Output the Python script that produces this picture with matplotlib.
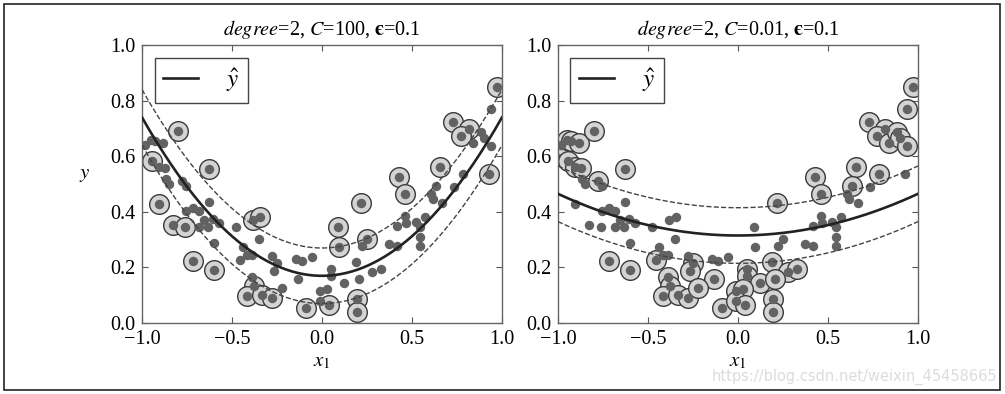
import numpy as np
import matplotlib
matplotlib.use("Agg")
import matplotlib.pyplot as plt
from matplotlib.patches import Rectangle

plt.rcParams['font.family'] = ['Liberation Serif', 'DejaVu Serif']
plt.rcParams['mathtext.fontset'] = 'stix'

# training points
x_pts = [-0.983, -0.952, -0.928, -0.882, -0.802, -0.946, -0.904, -0.872, -0.867, -0.848,
         -0.630, -0.780, -0.757, -0.906, -0.630, -0.756, -0.718, -0.685, -0.826, -0.763,
         -0.683, -0.656, -0.633, -0.604, -0.572, -0.382, -0.344, -0.478, -0.348, -0.598,
         -0.715, -0.600, -0.437, -0.418, -0.391, -0.456, -0.280, -0.248, -0.267, -0.146,
         -0.113, -0.056, -0.135, -0.389, -0.378, -0.418, -0.335, -0.280, -0.221, -0.089,
         0.970, 0.939, 0.726, 0.818, 0.772, 0.841, 0.882, 0.900, 0.939, 0.930,
         0.656, 0.785, 0.733, 0.633, 0.604, 0.619, 0.668, 0.426, 0.459, 0.215,
         0.459, 0.467, 0.415, 0.522, 0.544, 0.574, 0.544, 0.544, 0.370, 0.418,
         0.089, 0.093, 0.248, 0.222, 0.189, 0.278, 0.326, 0.048, 0.052, 0.122,
         0.204, -0.011, 0.030, -0.011, 0.041, 0.196, 0.196]
y_pts = [0.640, 0.658, 0.656, 0.649, 0.691, 0.584, 0.562, 0.559, 0.517, 0.500,
         0.554, 0.512, 0.494, 0.430, 0.434, 0.404, 0.415, 0.403, 0.351, 0.346,
         0.346, 0.370, 0.346, 0.374, 0.361, 0.370, 0.382, 0.346, 0.302, 0.287,
         0.224, 0.191, 0.272, 0.245, 0.245, 0.227, 0.241, 0.217, 0.186, 0.229,
         0.224, 0.236, 0.157, 0.167, 0.134, 0.098, 0.101, 0.089, 0.125, 0.055,
         0.850, 0.769, 0.723, 0.698, 0.674, 0.646, 0.686, 0.664, 0.637, 0.535,
         0.562, 0.538, 0.490, 0.493, 0.464, 0.445, 0.433, 0.526, 0.466, 0.433,
         0.385, 0.361, 0.350, 0.364, 0.346, 0.380, 0.310, 0.278, 0.284, 0.277,
         0.344, 0.272, 0.302, 0.278, 0.221, 0.183, 0.193, 0.195, 0.169, 0.143,
         0.159, 0.116, 0.123, 0.080, 0.065, 0.085, 0.041]

# which points are ringed as support vectors in each panel
sv_left = [0, 0, 0, 0, 1, 1, 0, 0, 0, 0,
           1, 0, 0, 1, 0, 0, 0, 0, 1, 1,
           0, 0, 0, 0, 0, 1, 1, 0, 0, 0,
           1, 1, 0, 0, 0, 0, 0, 0, 0, 0,
           0, 0, 0, 0, 1, 1, 1, 1, 0, 1,
           1, 0, 1, 1, 1, 0, 0, 0, 0, 1,
           1, 0, 0, 0, 0, 0, 0, 1, 1, 1,
           0, 0, 0, 0, 0, 0, 0, 0, 0, 0,
           1, 1, 1, 0, 0, 0, 0, 0, 0, 0,
           0, 0, 0, 0, 1, 1, 1]
sv_right = [1, 1, 1, 1, 1, 1, 1, 1, 0, 0,
            1, 1, 0, 0, 0, 0, 0, 0, 0, 0,
            0, 0, 0, 0, 0, 0, 0, 0, 0, 0,
            1, 1, 0, 0, 0, 1, 0, 1, 1, 0,
            0, 0, 1, 1, 1, 1, 1, 1, 1, 1,
            1, 1, 1, 1, 1, 1, 1, 1, 1, 0,
            1, 1, 0, 1, 0, 0, 0, 1, 1, 1,
            0, 0, 0, 0, 0, 0, 0, 0, 0, 0,
            0, 0, 0, 0, 1, 1, 1, 1, 1, 1,
            1, 1, 1, 1, 1, 1, 1]

# fitted model: intercept, linear, quadratic terms
coef_left = [0.17, 0.0, 0.57]
coef_right = [0.315, 0.0, 0.15]
epsilon = 0.1
titles = [r"$degree$=2, $C$=100, $\mathbf{ϵ}$=0.1",
          r"$degree$=2, $C$=0.01, $\mathbf{ϵ}$=0.1"]

X = np.array(x_pts)
Y = np.array(y_pts)

fig = plt.figure(figsize=(10.05, 3.94), dpi=100)
fig.patches.append(Rectangle((0.004, 0.01), 0.991, 0.98, transform=fig.transFigure,
                             fill=False, edgecolor='#222222', linewidth=1.2))

axes = [fig.add_axes([0.1413, 0.180, 0.3582, 0.7056]),
        fig.add_axes([0.5552, 0.180, 0.3582, 0.7056])]

xs = np.linspace(-1, 1, 200)
for ax, coef, sv, title in zip(axes, [coef_left, coef_right], [sv_left, sv_right], titles):
    m = np.array(sv, dtype=bool)
    pred = coef[0] + coef[1] * xs + coef[2] * xs ** 2
    ax.scatter(X[m], Y[m], s=200, facecolors='#d4d4d4', edgecolors='#3a3a3a',
               linewidths=1.0, zorder=2)
    ax.plot(X, Y, 'o', color='#626262', markersize=6.8, markeredgewidth=0, zorder=3)
    ax.plot(xs, pred, '-', color='#222222', linewidth=1.9, label=r"$\hat{y}$", zorder=4)
    ax.plot(xs, pred + epsilon, '--', color='#444444', linewidth=1.0, zorder=4)
    ax.plot(xs, pred - epsilon, '--', color='#444444', linewidth=1.0, zorder=4)
    ax.set_xlim(-1, 1)
    ax.set_ylim(0, 1)
    ax.set_xticks([-1.0, -0.5, 0.0, 0.5, 1.0])
    ax.set_yticks([0.0, 0.2, 0.4, 0.6, 0.8, 1.0])
    ax.tick_params(direction='in', top=True, right=True, length=4, width=0.8,
                   colors='#555555', labelcolor='black', labelsize=14.5, pad=5)
    for s in ax.spines.values():
        s.set_color('#666666')
        s.set_linewidth(1.0)
    ax.set_title(title, fontsize=14.5, pad=7)
    ax.set_xlabel(r"$x_1$", fontsize=15, labelpad=2)
    leg = ax.legend(loc='upper left', fontsize=18, fancybox=False, framealpha=1,
                    handlelength=1.4, borderpad=0.35, handletextpad=1.1,
                    borderaxespad=0.5)
    leg.get_frame().set_edgecolor('#444444')
    leg.get_frame().set_linewidth(1.0)

axes[0].set_ylabel(r"$y$", fontsize=15, rotation=0, labelpad=18)

fig.text(0.992, 0.022, "https://blog.csdn.net/weixin_45458665", ha='right', va='bottom',
         fontsize=10.5, color='#dcdcdc', family='DejaVu Sans')

fig.savefig("out.png", dpi=100)
